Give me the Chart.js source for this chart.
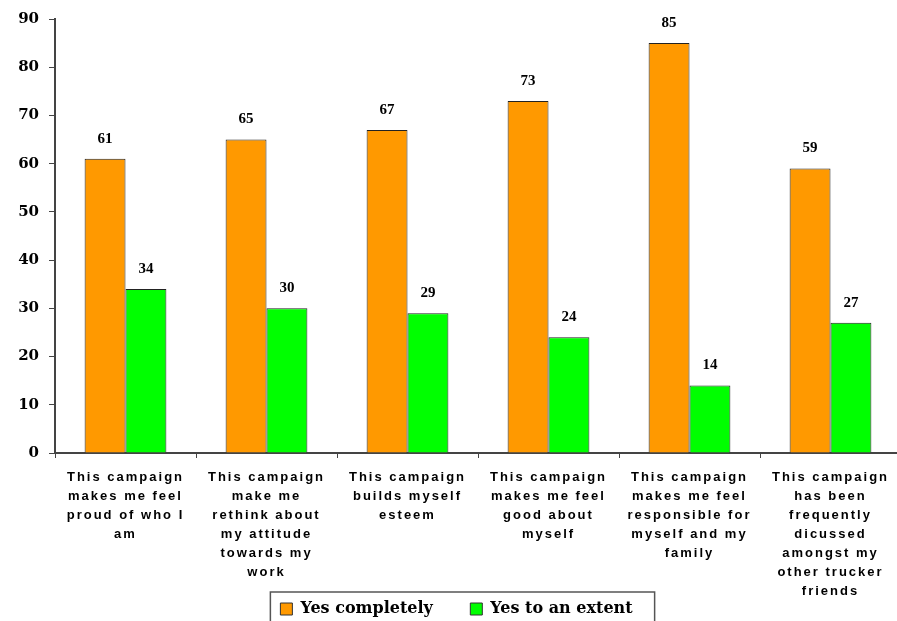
<!DOCTYPE html>
<html>
<head>
<meta charset="utf-8">
<script src="https://cdn.jsdelivr.net/npm/chart.js@4/dist/chart.umd.min.js"></script>
<style>
  html, body { margin: 0; padding: 0; background: #fff; overflow: hidden; }
  canvas { display: block; }
</style>
</head>
<body>
<canvas id="chart" width="905" height="621"></canvas>
<script>
// Datos del gráfico
const categories = [
  ['This campaign', 'makes me feel', 'proud of who I', 'am'],
  ['This campaign', 'make me', 'rethink about', 'my attitude', 'towards my', 'work'],
  ['This campaign', 'builds myself', 'esteem'],
  ['This campaign', 'makes me feel', 'good about', 'myself'],
  ['This campaign', 'makes me feel', 'responsible for', 'myself and my', 'family'],
  ['This campaign', 'has been', 'frequently', 'dicussed', 'amongst my', 'other trucker', 'friends'],
];
const yesCompletely = [61, 65, 67, 73, 85, 59];
const yesExtent = [34, 30, 29, 24, 14, 27];
const seriesNames = ['Yes completely', 'Yes to an extent'];

// Etiquetas de valor encima de cada barra
const valueLabels = {
  id: 'valueLabels',
  afterDatasetsDraw(chart) {
    const ctx = chart.ctx;
    ctx.save();
    ctx.font = 'bold 15px "Liberation Serif"';
    ctx.fillStyle = '#000';
    ctx.textAlign = 'center';
    ctx.textBaseline = 'middle';
    chart.data.datasets.forEach((ds, i) => {
      chart.getDatasetMeta(i).data.forEach((bar, j) => {
        ctx.fillText(ds.data[j], bar.x, bar.y - 20);
      });
    });
    ctx.restore();
  }
};

// Leyenda desplazada un poco, con marco
const legendFrame = {
  id: 'legendFrame',
  afterLayout(chart) {
    chart.legend.left += 6;
    chart.legend.right += 6;
    chart.legend.top += 6;
    chart.legend.bottom += 6;
  },
  afterDraw(chart) {
    const lg = chart.legend;
    const w = lg.lineWidths ? lg.lineWidths[0] : 0;
    const cx = (lg.left + lg.right) / 2;
    const ctx = chart.ctx;
    ctx.save();
    ctx.strokeStyle = '#555';
    ctx.lineWidth = 1.5;
    ctx.strokeRect(cx - w / 2 - 8, lg.top - 5, w + 28, 45);
    ctx.restore();
  }
};

const chart = new Chart(document.getElementById('chart').getContext('2d'), {
  type: 'bar',
  data: {
    labels: categories,
    datasets: [{
      label: seriesNames[0],
      data: yesCompletely,
      backgroundColor: '#FF9900',
      borderColor: '#222',
      borderWidth: 1,
    }, {
      label: seriesNames[1],
      data: yesExtent,
      backgroundColor: '#00FF00',
      borderColor: '#222',
      borderWidth: 1,
    }],
  },
  options: {
    responsive: false,
    animation: false,
    categoryPercentage: 0.58,
    barPercentage: 1,
    layout: { padding: { left: 0, right: 4, top: 17, bottom: 0 } },
    plugins: {
      tooltip: { enabled: false },
      legend: {
        position: 'bottom',
        labels: {
          boxWidth: 12,
          boxHeight: 12,
          padding: 4,
          color: '#000',
          font: { family: '"DejaVu Serif"', weight: 'bold', size: 16 },
          generateLabels(chart) {
            return chart.data.datasets.map((ds, i) => ({
              text: i === 0 ? ds.label + '      ' : ds.label,
              fillStyle: ds.backgroundColor,
              strokeStyle: '#333',
              lineWidth: 1,
              datasetIndex: i,
            }));
          },
        },
      },
    },
    scales: {
      x: {
        grid: { display: true, drawOnChartArea: false, tickLength: 5, color: '#444', offset: true },
        border: { color: '#444', width: 2 },
        ticks: {
          color: '#000',
          maxRotation: 0,
          autoSkip: false,
          padding: 10,
          font: { family: '"Liberation Sans"', weight: 'bold', size: 13, lineHeight: 1.46 },
        },
        afterFit(scale) { scale.height = 138; },
      },
      y: {
        min: 0,
        max: 90,
        ticks: {
          stepSize: 10,
          color: '#000',
          padding: 10,
          font: { family: '"DejaVu Serif"', weight: 'bold', size: 15 },
        },
        grid: { display: true, drawOnChartArea: false, tickLength: 6, color: '#444' },
        border: { color: '#444', width: 2 },
        afterFit(scale) { scale.width = 55; },
      },
    },
  },
  plugins: [valueLabels, legendFrame],
});

// Espaciado de letras en las etiquetas del eje X, sin recorte
const xScale = chart.scales.x;
const drawLabelsOrig = xScale.drawLabels.bind(xScale);
xScale._computeLabelArea = () => undefined;
xScale.drawLabels = function (area) {
  this.ctx.save();
  this.ctx.letterSpacing = '2px';
  drawLabelsOrig(area);
  this.ctx.restore();
};
chart.draw();
</script>
</body>
</html>
